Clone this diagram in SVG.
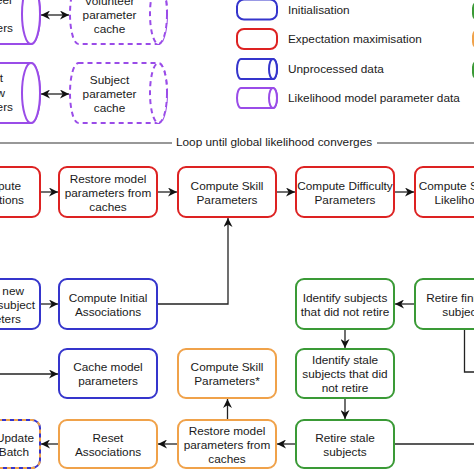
<svg xmlns="http://www.w3.org/2000/svg" width="474" height="474" viewBox="0 0 474 474">
<style>
text{font-family:"Liberation Sans",Arial,sans-serif;font-size:11.8px;fill:#1a1a1a}
.m{text-anchor:middle}.e{text-anchor:end}
.box{fill:#fff;stroke-width:2}
.red{stroke:#dd2222}.blue{stroke:#3535cc}.green{stroke:#3a9a36}.orange{stroke:#f0a24a}.purple{stroke:#9a4ce8}
.dash{stroke-dasharray:5 4}
.c{fill:none;stroke:#222;stroke-width:1.3}
</style>
<defs>
<marker id="ah" viewBox="0 0 10 10" refX="10" refY="5" markerWidth="9" markerHeight="9" markerUnits="userSpaceOnUse" orient="auto-start-reverse"><path d="M0,0 L10,5 L0,10 L3,5 Z" fill="#111"/></marker>
</defs>

<g id="legend">
<rect class="box blue" x="237" y="-0.5" width="40" height="20" rx="7"/>
<text x="288" y="14">Initialisation</text>
<rect class="box red" x="237" y="29" width="40" height="20" rx="7"/>
<text x="288" y="43">Expectation maximisation</text>
<path class="box blue" d="M241 59 L273 59 A4 10 0 0 1 273 79 L241 79 A4 10 0 0 1 241 59 Z"/>
<ellipse class="box blue" cx="273" cy="69" rx="4" ry="10"/>
<text x="288" y="73">Unprocessed data</text>
<path class="box purple" d="M241 88 L273 88 A4 10 0 0 1 273 108 L241 108 A4 10 0 0 1 241 88 Z"/>
<ellipse class="box purple" cx="273" cy="98" rx="4" ry="10"/>
<text x="288" y="102">Likelihood model parameter data</text>
<rect class="box green" x="473" y="1" width="40" height="20" rx="7"/>
<rect class="box orange" x="473" y="29" width="40" height="20" rx="7"/>
<rect class="box green" x="473" y="60" width="40" height="20" rx="7"/>
</g>

<g id="volunteer-cyl">
<path class="box purple" d="M-70 -16 L31 -16 A9 30 0 0 1 31 44 L-70 44 Z"/>
<ellipse class="box purple" cx="31" cy="14" rx="9" ry="30"/>
<text class="e" x="13" y="4">Volunteer</text>
<text class="e" x="13" y="32">parameters</text>
</g>
<g id="subject-cyl">
<path class="box purple" d="M-70 63 L31 63 A9 30 0 0 1 31 123 L-70 123 Z"/>
<ellipse class="box purple" cx="31" cy="93" rx="9" ry="30"/>
<text class="e" x="3" y="82">Subject</text>
<text class="e" x="5" y="97">raw</text>
<text class="e" x="13" y="111">parameters</text>
</g>
<g id="volunteer-cache">
<path class="box purple dash" d="M78.5 -16 L158.5 -16 A8.5 30 0 0 1 158.5 44 L78.5 44 A8.5 30 0 0 1 78.5 -16 Z"/>
<ellipse class="box purple dash" cx="158.5" cy="14" rx="8.5" ry="30" fill="none"/>
<text class="m" x="109.5" y="4.5">Volunteer</text>
<text class="m" x="109.5" y="18.5">parameter</text>
<text class="m" x="109.5" y="32.5">cache</text>
</g>
<g id="subject-cache">
<path class="box purple dash" d="M78.5 63 L158.5 63 A8.5 30 0 0 1 158.5 123 L78.5 123 A8.5 30 0 0 1 78.5 63 Z"/>
<ellipse class="box purple dash" cx="158.5" cy="93" rx="8.5" ry="30" fill="none"/>
<text class="m" x="109.5" y="83.5">Subject</text>
<text class="m" x="109.5" y="97.5">parameter</text>
<text class="m" x="109.5" y="111.5">cache</text>
</g>

<g id="loop">
<line x1="0" y1="143" x2="172" y2="143" stroke="#333" stroke-width="1.2"/>
<line x1="377" y1="143" x2="474" y2="143" stroke="#333" stroke-width="1.2"/>
<text x="176" y="146">Loop until global likelihood converges</text>
</g>

<g id="compute-associations">
<rect class="box red" x="-58" y="167" width="98" height="50" rx="8"/>
<text class="e" x="21" y="189.5">Compute</text>
<text class="e" x="24" y="203.5">Associations</text>
</g>
<g id="restore-red">
<rect class="box red" x="59" y="167" width="98" height="50" rx="8"/>
<text class="m" x="108" y="182.5">Restore model</text>
<text class="m" x="108" y="196.5">parameters from</text>
<text class="m" x="108" y="210.5">caches</text>
</g>
<g id="compute-skill">
<rect class="box red" x="178" y="167" width="98" height="50" rx="8"/>
<text class="m" x="227" y="189.5">Compute Skill</text>
<text class="m" x="227" y="203.5">Parameters</text>
</g>
<g id="compute-difficulty">
<rect class="box red" x="296" y="167" width="98" height="50" rx="8"/>
<text class="m" x="345" y="189.5">Compute Difficulty</text>
<text class="m" x="345" y="203.5">Parameters</text>
</g>
<g id="compute-likelihoods">
<rect class="box red" x="415" y="167" width="98" height="50" rx="8"/>
<text class="m" x="464" y="189.5">Compute Subject</text>
<text class="m" x="464" y="203.5">Likelihoods</text>
</g>

<g id="create-new">
<rect class="box blue" x="-58" y="279" width="98" height="50" rx="8"/>
<text class="e" x="24" y="294.5">Create new</text>
<text class="e" x="35" y="308.5">volunteer/subject</text>
<text class="e" x="21" y="322.5">parameters</text>
</g>
<g id="compute-initial">
<rect class="box blue" x="59" y="279" width="98" height="50" rx="8"/>
<text class="m" x="108" y="301.5">Compute Initial</text>
<text class="m" x="108" y="315.5">Associations</text>
</g>
<g id="identify-not-retired">
<rect class="box green" x="296" y="279" width="98" height="50" rx="8"/>
<text class="m" x="345" y="301.5">Identify subjects</text>
<text class="m" x="345" y="315.5">that did not retire</text>
</g>
<g id="retire-finished">
<rect class="box green" x="415" y="279" width="98" height="50" rx="8"/>
<text class="m" x="464" y="301.5">Retire finished</text>
<text class="m" x="464" y="315.5">subjects</text>
</g>

<g id="cache-model">
<rect class="box blue" x="59" y="349" width="98" height="49" rx="8"/>
<text class="m" x="108" y="371">Cache model</text>
<text class="m" x="108" y="385">parameters</text>
</g>
<g id="compute-skill-star">
<rect class="box orange" x="178" y="349" width="98" height="49" rx="8"/>
<text class="m" x="227" y="371">Compute Skill</text>
<text class="m" x="227" y="385">Parameters*</text>
</g>
<g id="identify-stale">
<rect class="box green" x="296" y="349" width="98" height="49" rx="8"/>
<text class="m" x="345" y="364">Identify stale</text>
<text class="m" x="345" y="378">subjects that did</text>
<text class="m" x="345" y="392">not retire</text>
</g>

<g id="update-batch">
<rect class="box blue" x="-58" y="420" width="98" height="48" rx="8"/>
<rect class="box orange" x="-58" y="420" width="98" height="48" rx="8" style="stroke-dasharray:4 4;fill:none"/>
<text class="e" x="34" y="441.5">Update</text>
<text class="e" x="29" y="455.5">Batch</text>
</g>
<g id="reset-associations">
<rect class="box orange" x="59" y="420" width="98" height="48" rx="8"/>
<text class="m" x="108" y="441.5">Reset</text>
<text class="m" x="108" y="455.5">Associations</text>
</g>
<g id="restore-orange">
<rect class="box orange" x="178" y="420" width="98" height="48" rx="8"/>
<text class="m" x="227" y="434.5">Restore model</text>
<text class="m" x="227" y="448.5">parameters from</text>
<text class="m" x="227" y="462.5">caches</text>
</g>
<g id="retire-stale">
<rect class="box green" x="296" y="420" width="98" height="48" rx="8"/>
<text class="m" x="345" y="441.5">Retire stale</text>
<text class="m" x="345" y="455.5">subjects</text>
</g>

<g id="connectors">
<line class="c" x1="41" y1="15" x2="69" y2="15" marker-start="url(#ah)" marker-end="url(#ah)"/>
<line class="c" x1="41" y1="94" x2="69" y2="94" marker-start="url(#ah)" marker-end="url(#ah)"/>
<line class="c" x1="41" y1="192" x2="58" y2="192" marker-end="url(#ah)"/>
<line class="c" x1="158" y1="192" x2="177" y2="192" marker-end="url(#ah)"/>
<line class="c" x1="277" y1="192" x2="295" y2="192" marker-end="url(#ah)"/>
<line class="c" x1="395" y1="192" x2="414" y2="192" marker-end="url(#ah)"/>
<line class="c" x1="41" y1="304" x2="58" y2="304" marker-end="url(#ah)"/>
<path class="c" d="M158 304 L228 304 L228 218" marker-end="url(#ah)"/>
<line class="c" x1="414" y1="304" x2="395" y2="304" marker-end="url(#ah)"/>
<path class="c" d="M464.5 330 L464.5 372 L474 372"/>
<line class="c" x1="345" y1="330" x2="345" y2="348" marker-end="url(#ah)"/>
<line class="c" x1="345" y1="399" x2="345" y2="419" marker-end="url(#ah)"/>
<line class="c" x1="395" y1="444" x2="474" y2="444"/>
<line class="c" x1="295" y1="444" x2="277" y2="444" marker-end="url(#ah)"/>
<line class="c" x1="227.5" y1="419" x2="227.5" y2="399" marker-end="url(#ah)"/>
<line class="c" x1="177" y1="444" x2="158" y2="444" marker-end="url(#ah)"/>
<line class="c" x1="58" y1="444" x2="41" y2="444" marker-end="url(#ah)"/>
<line class="c" x1="0" y1="374" x2="58" y2="374" marker-end="url(#ah)"/>
</g>
</svg>
